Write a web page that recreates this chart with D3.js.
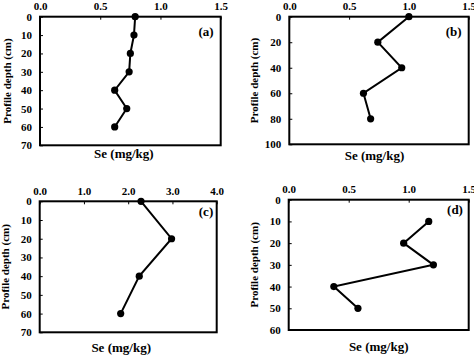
<!DOCTYPE html>
<html><head><meta charset="utf-8">
<script src="https://cdn.jsdelivr.net/npm/d3@7"></script>
<style>body{margin:0;background:#fff}svg{display:block}</style>
</head><body>
<script>
// ---- data ----
const depthA = [0, 10, 20, 30, 40, 50, 60];
const seA = [0.79, 0.78, 0.75, 0.74, 0.62, 0.72, 0.62];
const depthB = [0, 20, 40, 60, 80];
const seB = [1.0, 0.74, 0.94, 0.62, 0.68];
const depthC = [0, 20, 40, 60];
const seC = [2.29, 2.98, 2.25, 1.83];
const depthD = [10, 20, 30, 40, 50];
const seD = [1.167, 0.958, 1.206, 0.376, 0.577];
const xTicksAB = [0, 0.5, 1.0, 1.5];
const xTicksC = [0, 1, 2, 3, 4];
const yTicksA = [0, 10, 20, 30, 40, 50, 60, 70];
const yTicksB = [0, 20, 40, 60, 80, 100];
const yTicksD = [0, 10, 20, 30, 40, 50, 60];
const panelLabels = ["(a)", "(b)", "(c)", "(d)"];
const xTitle = "Se (mg/kg)";
const yTitle = "Profile depth (cm)";

// ---- layout ----
const panels = [
  {x: seA, y: depthA, xd: [0, 1.5], yd: [0, 70], xt: xTicksAB, yt: yTicksA, label: panelLabels[0],
   l: 40, r: 220.7, t: 16.7, b: 145.3, lx: 14.7, ly: 19.5, tx: -6.5, ty: 13, yx: -33},
  {x: seB, y: depthB, xd: [0, 1.5], yd: [0, 100], xt: xTicksAB, yt: yTicksB, label: panelLabels[1],
   l: 289.3, r: 468.7, t: 16.7, b: 144.3, lx: 15, ly: 19.5, tx: -4.5, ty: 16, yx: -35},
  {x: seC, y: depthC, xd: [0, 4], yd: [0, 70], xt: xTicksC, yt: yTicksA, label: panelLabels[2],
   l: 39.7, r: 216.7, t: 201.3, b: 332.3, lx: 10.7, ly: 15, tx: -7, ty: 20, yx: -35},
  {x: seD, y: depthD, xd: [0, 1.5], yd: [0, 60], xt: xTicksAB, yt: yTicksD, label: panelLabels[3],
   l: 288.7, r: 468.7, t: 199.7, b: 330, lx: 13.7, ly: 14.5, tx: 0, ty: 21, yx: -35}
];

const svg = d3.select("body").append("svg").attr("width", 474).attr("height", 355)
  .style("font-family", "'Liberation Serif', 'Times New Roman', serif")
  .style("font-weight", "bold");

panels.forEach(p => {
  const xs = d3.scaleLinear().domain(p.xd).range([p.l, p.r]);
  const ys = d3.scaleLinear().domain(p.yd).range([p.t, p.b]);
  const g = svg.append("g");
  const fmt = d3.format(".1f");

  const ax = g.append("g").attr("transform", `translate(0,${p.t})`)
    .call(d3.axisTop(xs).tickValues(p.xt).tickFormat(fmt).tickSizeInner(-3).tickSizeOuter(0).tickPadding(6.5));
  const ay = g.append("g").attr("transform", `translate(${p.l},0)`)
    .call(d3.axisLeft(ys).tickValues(p.yt).tickFormat(d3.format("d")).tickSizeInner(-3).tickSizeOuter(0).tickPadding(8));
  [ax, ay].forEach(a => {
    a.select(".domain").remove();
    a.selectAll("line").attr("stroke", "#000").attr("stroke-width", 1);
    a.selectAll("text").attr("fill", "#000").style("font-size", "11px")
      .style("font-family", "'Liberation Serif', serif").style("font-weight", "bold");
  });

  g.append("rect").attr("x", xs(p.xd[0])).attr("y", ys(p.yd[0]))
    .attr("width", xs(p.xd[1]) - xs(p.xd[0])).attr("height", ys(p.yd[1]) - ys(p.yd[0]))
    .attr("fill", "none").attr("stroke", "#000").attr("stroke-width", 2);

  const pts = p.x.map((v, i) => [v, p.y[i]]);
  g.append("path").datum(pts)
    .attr("d", d3.line().x(d => xs(d[0])).y(d => ys(d[1])))
    .attr("fill", "none").attr("stroke", "#000").attr("stroke-width", 2);
  g.selectAll("circle").data(pts).join("circle")
    .attr("cx", d => xs(d[0])).attr("cy", d => ys(d[1])).attr("r", 3.6).attr("fill", "#000");

  g.append("text").attr("x", p.r - p.lx).attr("y", p.t + p.ly)
    .attr("text-anchor", "middle").style("font-size", "13px").text(p.label);

  g.append("text").attr("x", (p.l + p.r) / 2 + p.tx).attr("y", p.b + p.ty)
    .attr("text-anchor", "middle").style("font-size", "13px").text(xTitle);

  g.append("text")
    .attr("transform", `translate(${p.l + p.yx},${(p.t + p.b) / 2}) rotate(-90)`)
    .attr("text-anchor", "middle").attr("dominant-baseline", "central")
    .style("font-size", "11px").text(yTitle);
});
</script>
</body></html>
